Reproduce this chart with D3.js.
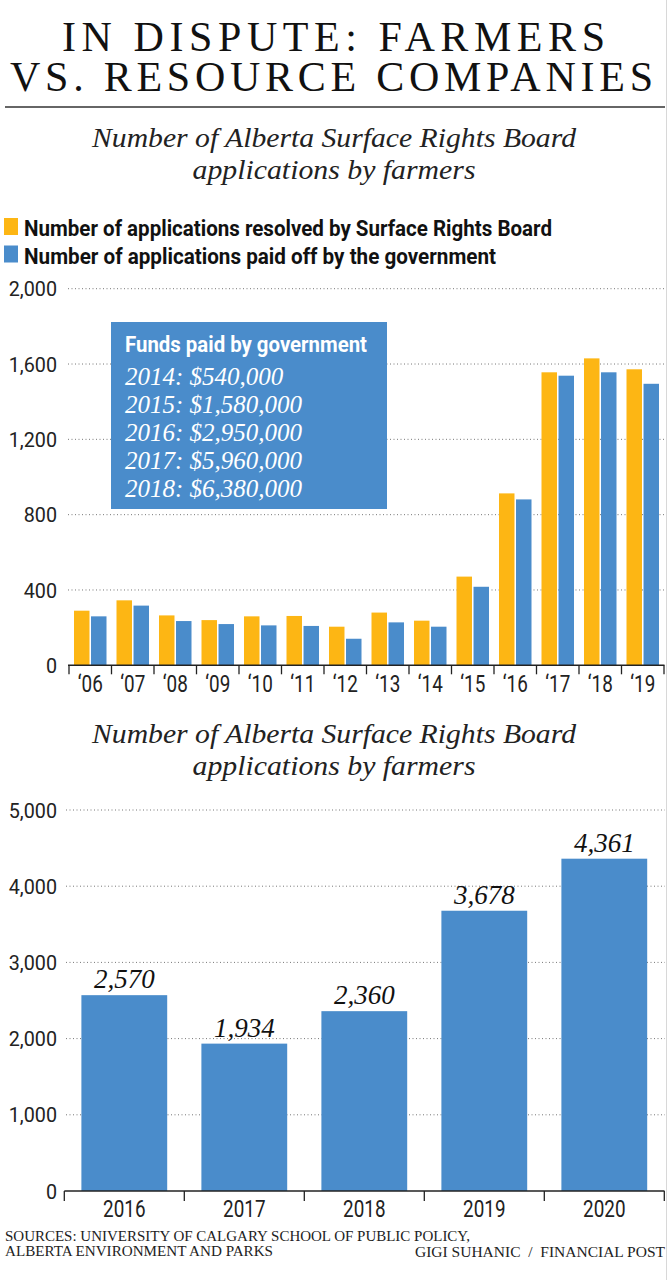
<!DOCTYPE html>
<html>
<head>
<meta charset="utf-8">
<script src="https://cdn.jsdelivr.net/npm/d3@7"></script>
<style>
  html, body { margin: 0; padding: 0; background: #fff; }
  svg { display: block; }
</style>
</head>
<body>
<svg id="chart" width="668" height="1280"></svg>
<script>
// ---------- DATA ----------
const titleLines = ["IN DISPUTE: FARMERS", "VS. RESOURCE COMPANIES"];
const subtitleLines = ["Number of Alberta Surface Rights Board", "applications by farmers"];
const legendLabels = ["Number of applications resolved by Surface Rights Board",
                      "Number of applications paid off by the government"];
const topYears = ["‘06","‘07","‘08","‘09","‘10","‘11","‘12","‘13","‘14","‘15","‘16","‘17","‘18","‘19"];
const resolvedByBoard = [290, 345, 265, 240, 260, 262, 205, 280, 237, 471, 913, 1556, 1630, 1572];
const paidByGovernment = [260, 317, 235, 219, 212, 209, 141, 228, 205, 417, 881, 1538, 1556, 1495];
const topYTicks = [0, 400, 800, 1200, 1600, 2000];
const fundsTitle = "Funds paid by government";
const fundsLines = ["2014: $540,000", "2015: $1,580,000", "2016: $2,950,000", "2017: $5,960,000", "2018: $6,380,000"];
const bottomYears = ["2016", "2017", "2018", "2019", "2020"];
const bottomApplications = [2570, 1934, 2360, 3678, 4361];
const bottomYTicks = [0, 1000, 2000, 3000, 4000, 5000];
const sourceLines = ["SOURCES: UNIVERSITY OF CALGARY SCHOOL OF PUBLIC POLICY,", "ALBERTA ENVIRONMENT AND PARKS"];
const credit = "GIGI SUHANIC  /  FINANCIAL POST";

// ---------- STYLE ----------
const YELLOW = "#FDB614";
const BLUE = "#4A8CCB";
const SERIF = "'Liberation Serif', 'DejaVu Serif', serif";
const SANS = "Roboto, 'Liberation Sans', sans-serif";
const fmt = d3.format(",");

const svg = d3.select("#chart");

// helper: squeeze text to a given width
function fitWidth(sel, w, adjust) {
  sel.attr("textLength", w).attr("lengthAdjust", adjust || "spacingAndGlyphs");
}
function condense(sel, f) {
  sel.each(function() {
    const t = this.getComputedTextLength();
    this.setAttribute("textLength", t * f);
    this.setAttribute("lengthAdjust", "spacingAndGlyphs");
  });
}

// right-edge frame line
svg.append("line").attr("x1", 666.5).attr("x2", 666.5).attr("y1", 0).attr("y2", 1280)
  .attr("stroke", "#d8d8d8").attr("stroke-width", 1);

// ---------- TITLE ----------
const titleSpecs = [{x: 62, y: 51, w: 543}, {x: 10, y: 91, w: 643}];
titleLines.forEach((t, i) => {
  svg.append("text").attr("x", titleSpecs[i].x).attr("y", titleSpecs[i].y)
    .attr("font-family", SERIF).attr("font-size", 42).attr("fill", "#111")
    .text(t).call(fitWidth, titleSpecs[i].w, "spacing");
});
svg.append("line").attr("x1", 5).attr("x2", 665).attr("y1", 107).attr("y2", 107)
  .attr("stroke", "#333").attr("stroke-width", 1.5);

function subtitle(y1, y2) {
  const widths = [484, 283];
  [y1, y2].forEach((y, i) => {
    svg.append("text").attr("x", 334 - widths[i] / 2).attr("y", y)
      .attr("font-family", SERIF).attr("font-style", "italic").attr("font-size", 28).attr("fill", "#222")
      .text(subtitleLines[i]).call(fitWidth, widths[i]);
  });
}
subtitle(147, 179);

// ---------- LEGEND ----------
const legendColors = [YELLOW, BLUE];
const legendWidths = [528, 472];
legendLabels.forEach((l, i) => {
  const y = 236 + i * 27.5;
  svg.append("rect").attr("x", 4).attr("y", y - 18).attr("width", 14).attr("height", 17).attr("fill", legendColors[i]);
  svg.append("text").attr("x", 24).attr("y", y)
    .attr("font-family", SANS).attr("font-weight", 700).attr("font-size", 22).attr("fill", "#111")
    .text(l).call(fitWidth, legendWidths[i]);
});

// ---------- TOP CHART ----------
const x0 = d3.scaleBand().domain(topYears).range([69, 664]);
const x1 = d3.scaleBand().domain(["resolved", "paid"]).range([5, x0.bandwidth() - 5]).paddingInner(0.09);
const yTop = d3.scaleLinear().domain([0, 2000]).range([665.3, 288.7]);

const gTop = svg.append("g");
gTop.selectAll("line.grid").data(topYTicks.filter(d => d > 0)).join("line")
  .attr("x1", 68).attr("x2", 665).attr("y1", d => yTop(d)).attr("y2", d => yTop(d))
  .attr("stroke", "#777").attr("stroke-width", 1).attr("stroke-dasharray", "1,2.5");
gTop.selectAll("text.ylab").data(topYTicks).join("text")
  .attr("x", 57).attr("y", d => yTop(d)).attr("dy", "0.36em").attr("text-anchor", "end")
  .attr("font-family", SANS).attr("font-size", 21).attr("fill", "#222")
  .text(d => fmt(d)).call(condense, 0.94);

// callout box
svg.append("rect").attr("x", 111).attr("y", 322).attr("width", 276).attr("height", 187).attr("fill", BLUE);
svg.append("text").attr("x", 125).attr("y", 352)
  .attr("font-family", SANS).attr("font-weight", 700).attr("font-size", 22).attr("fill", "#fff")
  .text(fundsTitle).call(fitWidth, 242);
const fundsW = [162, 180, 186, 182, 186];
fundsLines.forEach((t, i) => {
  svg.append("text").attr("x", 125).attr("y", 384.5 + i * 28)
    .attr("font-family", SERIF).attr("font-style", "italic").attr("font-size", 25).attr("fill", "#fff")
    .text(t);
});

// bars
const topData = topYears.map((y, i) => ({year: y, vals: [{k: "resolved", v: resolvedByBoard[i]}, {k: "paid", v: paidByGovernment[i]}]}));
const colorScale = d3.scaleOrdinal().domain(["resolved", "paid"]).range([YELLOW, BLUE]);
gTop.selectAll("g.grp").data(topData).join("g")
  .attr("transform", d => `translate(${x0(d.year)},0)`)
  .selectAll("rect").data(d => d.vals).join("rect")
  .attr("x", d => x1(d.k)).attr("width", x1.bandwidth())
  .attr("y", d => yTop(d.v)).attr("height", d => yTop(0) - yTop(d.v))
  .attr("fill", d => colorScale(d.k));

// axis
gTop.append("line").attr("x1", 68).attr("x2", 664.5).attr("y1", yTop(0)).attr("y2", yTop(0))
  .attr("stroke", "#222").attr("stroke-width", 1.5);
const topBounds = topYears.map(d => x0(d)).concat([x0.range()[1]]);
gTop.selectAll("line.tick").data(topBounds).join("line")
  .attr("x1", d => d).attr("x2", d => d).attr("y1", yTop(0)).attr("y2", yTop(0) + 9)
  .attr("stroke", "#222").attr("stroke-width", 1.3);
gTop.selectAll("text.xlab").data(topYears).join("text")
  .attr("x", d => x0(d) + x0.bandwidth() / 2).attr("y", 692).attr("text-anchor", "middle")
  .attr("font-family", SANS).attr("font-size", 23).attr("fill", "#222")
  .text(d => d).call(condense, 0.82);

// ---------- BOTTOM CHART ----------
subtitle(743, 775);
const xb = d3.scaleBand().domain(bottomYears).range([64.3, 664.3]).paddingInner(0.285).paddingOuter(0.1425);
const yb = d3.scaleLinear().domain([0, 5000]).range([1191, 810]);
const gB = svg.append("g");
gB.selectAll("line.grid").data(bottomYTicks.filter(d => d > 0)).join("line")
  .attr("x1", 66).attr("x2", 665).attr("y1", d => yb(d)).attr("y2", d => yb(d))
  .attr("stroke", "#777").attr("stroke-width", 1).attr("stroke-dasharray", "1,2.5");
gB.selectAll("text.ylab").data(bottomYTicks).join("text")
  .attr("x", 57).attr("y", d => yb(d)).attr("dy", "0.36em").attr("text-anchor", "end")
  .attr("font-family", SANS).attr("font-size", 21).attr("fill", "#222")
  .text(d => fmt(d)).call(condense, 0.94);
const bData = bottomYears.map((y, i) => ({year: y, v: bottomApplications[i]}));
gB.selectAll("rect").data(bData).join("rect")
  .attr("x", d => xb(d.year)).attr("width", xb.bandwidth())
  .attr("y", d => yb(d.v)).attr("height", d => yb(0) - yb(d.v)).attr("fill", BLUE);
gB.selectAll("text.val").data(bData).join("text")
  .attr("x", d => xb(d.year) + xb.bandwidth() / 2).attr("y", d => yb(d.v) - 7)
  .attr("text-anchor", "middle").attr("font-family", SERIF).attr("font-style", "italic")
  .attr("font-size", 27).attr("fill", "#111").text(d => fmt(d.v));
gB.append("line").attr("x1", 64.3).attr("x2", 664.5).attr("y1", yb(0)).attr("y2", yb(0))
  .attr("stroke", "#222").attr("stroke-width", 1.5);
const step = xb.step();
const bBounds = bottomYears.map(d => xb(d) - (step - xb.bandwidth()) / 2).concat([xb.range()[1]]);
gB.selectAll("line.tick").data(bBounds).join("line")
  .attr("x1", d => d).attr("x2", d => d).attr("y1", yb(0)).attr("y2", yb(0) + 10)
  .attr("stroke", "#222").attr("stroke-width", 1.3);
gB.selectAll("text.xlab").data(bottomYears).join("text")
  .attr("x", d => xb(d) + xb.bandwidth() / 2).attr("y", 1217).attr("text-anchor", "middle")
  .attr("font-family", SANS).attr("font-size", 23).attr("fill", "#222")
  .text(d => d).call(condense, 0.82);

// ---------- SOURCES ----------
const srcW = [465, 268];
sourceLines.forEach((t, i) => {
  svg.append("text").attr("x", 5).attr("y", 1241 + i * 14.5)
    .attr("font-family", SERIF).attr("font-size", 15).attr("fill", "#222")
    .text(t).call(fitWidth, srcW[i]);
});
svg.append("text").attr("x", 415).attr("y", 1257)
  .attr("font-family", SERIF).attr("font-size", 15).attr("fill", "#222")
  .attr("xml:space", "preserve").style("white-space", "pre")
  .text(credit).call(fitWidth, 250);
</script>
</body>
</html>
